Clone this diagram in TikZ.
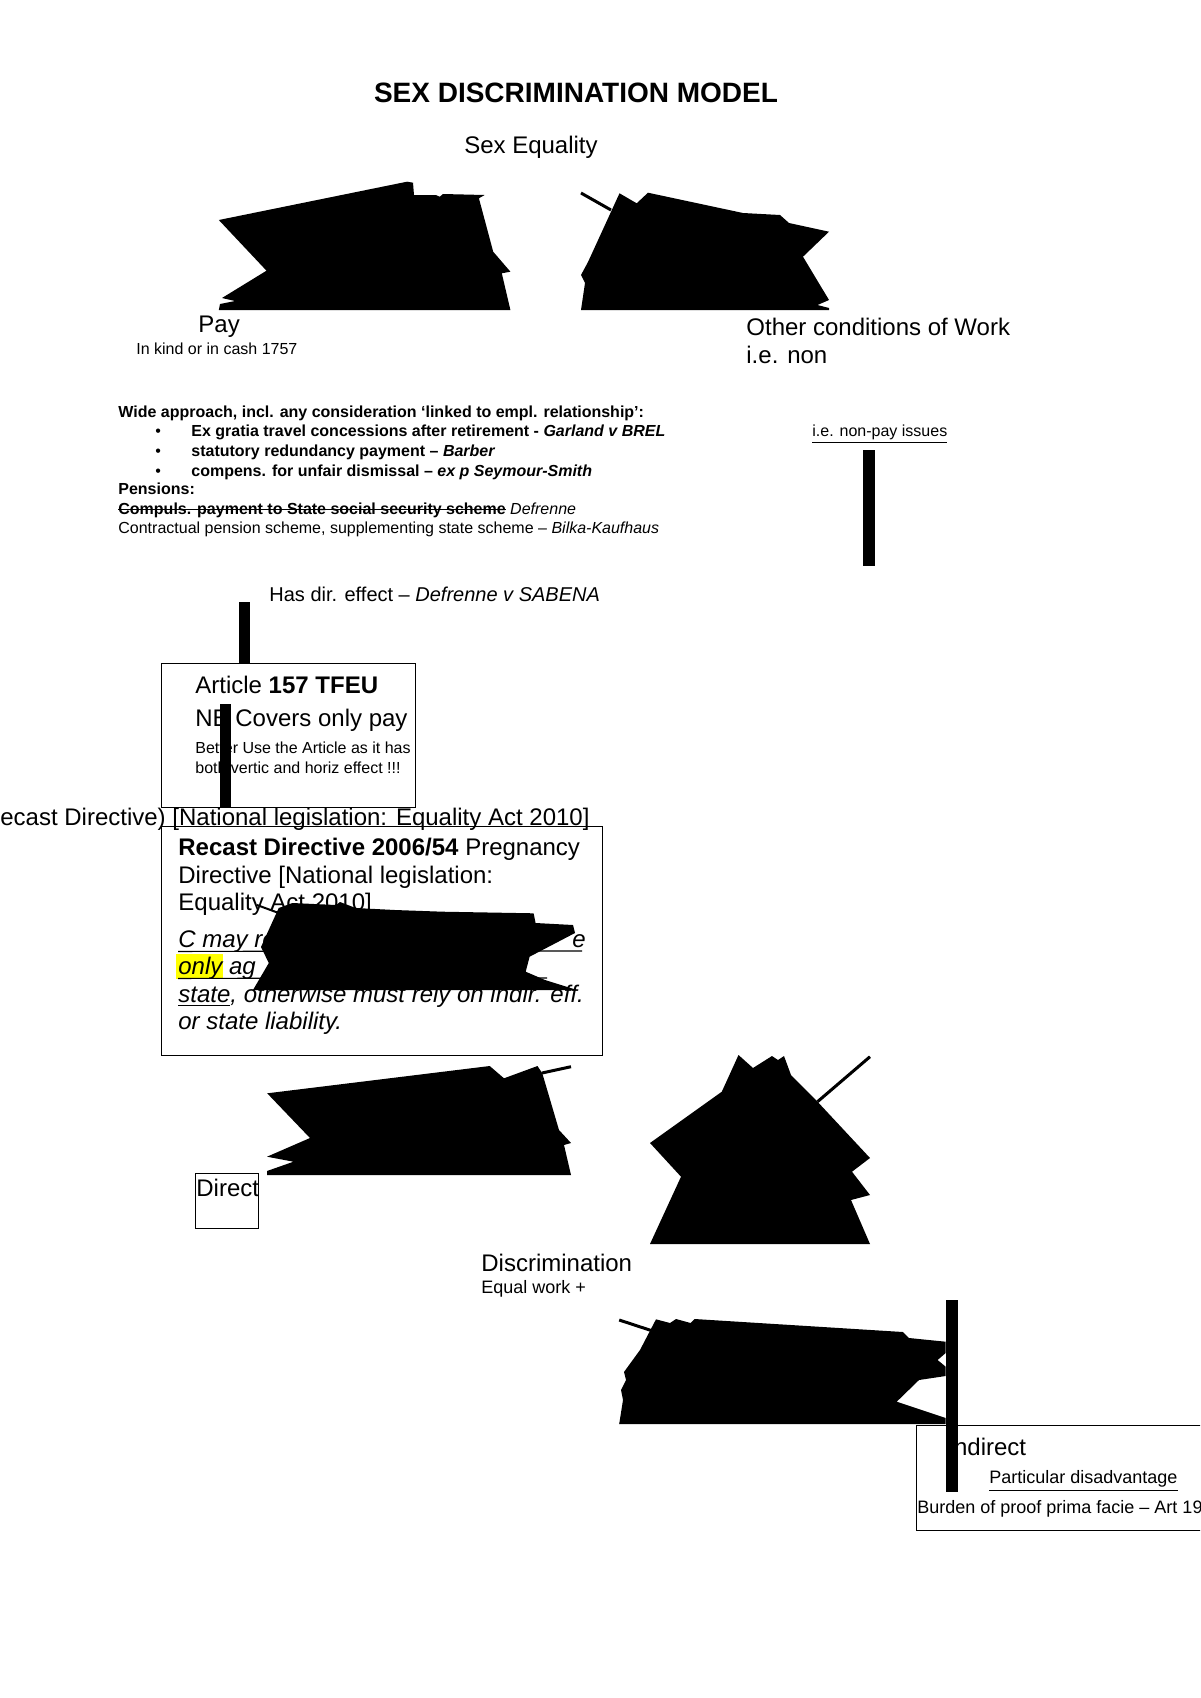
\documentclass[tikz,border=0pt]{standalone}
\usepackage{fontspec}
\setmainfont{Liberation Sans}
\usetikzlibrary{positioning,calc}
\definecolor{marker}{rgb}{1,1,0}
\newsavebox{\strikebox}
\newcommand{\strikeit}[1]{\sbox{\strikebox}{#1}\rlap{\usebox{\strikebox}}\rule[0.28em]{\wd\strikebox}{0.6pt}}

\begin{document}
\begin{tikzpicture}[x=0.5pt,y=-0.5pt,
  txt/.style={inner sep=0pt,anchor=base west,yshift=-1.2pt,font=\fontsize{12}{14}\selectfont},
  titl/.style={txt,font=\itshape\fontsize{12}{14}\selectfont},
  tsmall/.style={txt,font=\fontsize{8}{9.6}\selectfont},
  tnine/.style={txt,font=\fontsize{9}{11}\selectfont},
  boxframe/.style={draw,line width=0.7pt,inner sep=0pt,anchor=north west},
  blob/.style={fill=black},
  bar/.style={line width=5.5pt},
  stub/.style={line width=1.5pt}]
\useasboundingbox (0,0) rectangle (1200,1698);
\clip (0,0) rectangle (1200,1698);

% heading
\node[txt,anchor=base,font=\bfseries\fontsize{14}{16}\selectfont] (title) at (576,100) {SEX DISCRIMINATION MODEL};
\node[txt,anchor=base] (equality) at (531,151) {Sex Equality};

% top blobs
\fill[blob] (218.8,220) -- (407,181.7) -- (413,182.7) -- (414,195) -- (435.8,195) -- (439.8,196.7) -- (443,194) -- (484.6,195) -- (478.9,198.3) -- (493.2,251.7) -- (510.4,271.7) -- (501.8,273.3) -- (510.4,310) -- (218.8,310) -- (220,304) -- (235,301) -- (222,298) -- (266.5,270.7) -- cycle;
\fill[blob] (619.5,193.3) -- (636.7,203.3) -- (648,192.7) -- (743,213) -- (780,215) -- (789,223) -- (829,231.7) -- (803,256.7) -- (829,300) -- (817.5,305) -- (829,308) -- (829,310) -- (581,310) -- (585,283) -- (581,275) -- (588,262) -- cycle;
\draw[stub] (581,193) -- (611,210);

% pay side
\node[txt] (pay) at (198,330) {Pay};
\node[tsmall] (inkind) at (136,352) {In kind or in cash 1757};
\node[tsmall] (wide) at (118,415.5) {\textbf{Wide approach, incl. any consideration ‘linked to empl. relationship’:}};
\foreach \y in {434,454.5,474}
  \node[tsmall] at (155,\y) {\textbullet};
\node[tsmall] (gratia) at (191,434) {\textbf{Ex gratia travel concessions after retirement - \textit{Garland v BREL}}};
\node[tsmall] (redund) at (191,454.5) {\textbf{statutory redundancy payment – \textit{Barber}}};
\node[tsmall] (unfair) at (191,474) {\textbf{compens. for unfair dismissal – \textit{ex p Seymour-Smith}}};
\node[tsmall] (pens) at (118,492.5) {\textbf{Pensions:}};
\node[tsmall] (compuls) at (118,512) {\strikeit{\textbf{Compuls. payment to State social security scheme}} \textit{Defrenne}};
\node[tsmall] (contract) at (118,531.5) {Contractual pension scheme, supplementing state scheme – \textit{Bilka-Kaufhaus}};

% other conditions side
\node[txt] (other) at (746,333) {Other conditions of Work};
\node[txt] (ienon) at (746,361) {i.e. non};
\node[tsmall] (nonpay) at (812,434) {\underline{i.e. non-pay issues}};
\coordinate (nonpaybar) at (869,450);
\draw[bar,line width=6pt] (nonpaybar) -- ++(0,116);

% article 157
\node[txt,font=\fontsize{10}{12}\selectfont] (direff) at (269,599) {Has dir. effect – \textit{Defrenne v SABENA}};
\node[boxframe,minimum width=127pt,minimum height=72pt] (artbox) at (161,663) {};
\node[txt] (article) at (195,691) {Article \textbf{157 TFEU}};
\node[txt] (nb) at (195,724) {NB Covers only pay};
\node[tsmall] (better) at (195,751) {Better Use the Article as it has};
\node[tsmall] (both) at (195,771) {both vertic and horiz effect !!!};
\coordinate (dirbar) at (244.5,602);
\draw[bar] (dirbar) -- (dirbar |- artbox.north);
\coordinate (artbar) at (225.5,704);
\draw[bar] (artbar) -- (artbar |- artbox.south);

% recast directive
\node[txt] (recastline) at (0,823) {ecast Directive) [National legislation: Equality Act 2010]};
\node[boxframe,minimum width=220.5pt,minimum height=114.5pt] (recastbox) at (161,826) {};
\fill[marker] (176,954) rectangle (223,979);
\node[txt] (recast) at (178,853) {\textbf{Recast Directive 2006/54} Pregnancy};
\node[txt] (pregdir) at (178,881) {Directive [National legislation:};
\node[txt] (eqact) at (178,908) {Equality Act 2010]};
\node[titl] (rely) at (178,945) {C may re};
\node[titl] (relyend) at (572,945) {e};
\draw[line width=0.6pt] (rely.base west) ++(0,4) -- (582,951);
\node[titl] (only) at (178,972) {only ag};
\draw[line width=0.6pt] (only.base west) ++(0,4) -- (547,978);
\node[titl] (otherwise) at (178,1000) {\underline{state}, otherwise must rely on indir. eff.};
\node[titl] (liab) at (178,1027) {or state liability.};
\fill[blob] (278.7,908) -- (292.5,903) -- (336,905) -- (340,902) -- (355.7,908) -- (395,910) -- (442.7,911.7) -- (533.6,913.3) -- (535.6,923) -- (573,925) -- (575,933) -- (529.6,956.7) -- (525.7,971.7) -- (545,980) -- (577,990) -- (253,990) -- (268.8,963) -- (261,947) -- cycle;
\draw[stub,line width=1pt] (257,905) -- (278.7,913);

% lower blobs
\fill[blob] (267.2,1093.3) -- (489.7,1066) -- (504,1078.3) -- (537.5,1066) -- (542.3,1073.3) -- (559,1130) -- (571,1143) -- (564,1145) -- (571,1175) -- (267,1175) -- (267,1171) -- (293.5,1161.7) -- (267,1156.7) -- (310,1138) -- cycle;
\draw[stub] (542,1073) -- (571,1066.7);
\fill[blob] (738.5,1055) -- (753,1068) -- (772,1056) -- (778,1060) -- (784,1056) -- (791,1075) -- (817.5,1101.7) -- (870,1158) -- (852,1171.7) -- (870,1195) -- (851,1200) -- (870,1244) -- (650,1244) -- (681,1176.7) -- (650,1143) -- (721.8,1091.7) -- cycle;
\draw[stub] (817.5,1101.7) -- (870,1056.7);

% direct / indirect
\node[boxframe,minimum width=31.5pt,minimum height=27.5pt] (directbox) at (195,1173) {};
\node[txt] (direct) at (196,1194) {Direct};
\node[txt] (discr) at (481,1269) {Discrimination};
\node[tnine] (equalwork) at (481,1291) {Equal work +};
\fill[blob] (656,1319.3) -- (670,1323) -- (676,1319) -- (690.6,1323) -- (694.7,1319) -- (902.9,1332) -- (909,1338) -- (945.7,1341.7) -- (945.7,1353) -- (937.6,1360) -- (945.7,1366.7) -- (945.7,1376) -- (919,1380) -- (896.7,1401.7) -- (945.7,1418) -- (945.7,1424) -- (619.2,1424) -- (623,1400) -- (621,1390) -- (626,1380) -- (624,1372) -- (640,1350) -- cycle;
\draw[stub] (619.2,1320) -- (651.8,1330.7);
\node[boxframe,minimum width=150pt,minimum height=52.5pt] (indirbox) at (916,1425) {};
\node[txt] (indirect) at (947,1453) {Indirect};
\node[tnine] (partic) at (989,1481) {\underline{Particular disadvantage}};
\node[tnine] (burden) at (917,1511) {Burden of proof prima facie – Art 19};
\coordinate (indbar) at (951.5,1300);
\draw[bar,line width=6pt] (indbar) -- ++(0,192);
\end{tikzpicture}
\end{document}
